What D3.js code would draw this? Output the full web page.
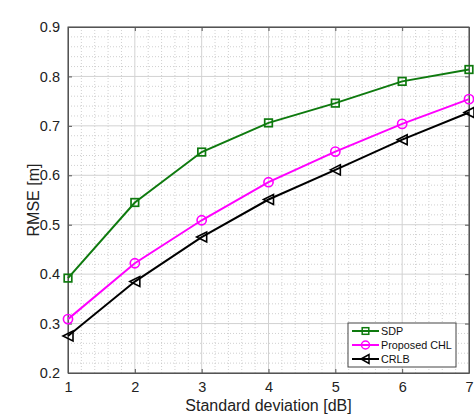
<!DOCTYPE html>
<html><head><meta charset="utf-8">
<script src="https://cdn.jsdelivr.net/npm/d3@7"></script>
<style>body{margin:0;background:#fff;}svg{display:block;font-family:"Liberation Sans",Arial,sans-serif;}</style>
</head><body><svg id="c" width="474" height="415"></svg>
<script>
const xValues = [1, 2, 3, 4, 5, 6, 7];
const sdp = [0.392, 0.545, 0.647, 0.706, 0.746, 0.790, 0.814];
const proposed = [0.309, 0.422, 0.509, 0.586, 0.648, 0.704, 0.754];
const crlb = [0.275, 0.385, 0.475, 0.551, 0.611, 0.672, 0.727];
const seriesNames = ["SDP", "Proposed CHL", "CRLB"];
const xTicks = [1, 2, 3, 4, 5, 6, 7];
const yTicks = [0.2, 0.3, 0.4, 0.5, 0.6, 0.7, 0.8, 0.9];

const svg = d3.select("#c");
const L = 68, R = 469, T = 27, B = 373;
const x = d3.scaleLinear().domain([1, 7]).range([L, R]);
const y = d3.scaleLinear().domain([0.2, 0.9]).range([B, T]);

const g = svg.append("g");
const xMinor = d3.range(1, 7.001, 0.2).filter(v => Math.abs(v - Math.round(v)) > 1e-6);
const yMinor = d3.range(0.2, 0.9001, 0.02).filter(v => Math.abs(v * 10 - Math.round(v * 10)) > 1e-6);
g.selectAll(".xm").data(xMinor).join("line")
  .attr("x1", d => x(d)).attr("x2", d => x(d)).attr("y1", T).attr("y2", B)
  .attr("stroke", "#c4c4c4").attr("stroke-width", 0.8).attr("stroke-dasharray", "1,2");
g.selectAll(".ym").data(yMinor).join("line")
  .attr("y1", d => y(d)).attr("y2", d => y(d)).attr("x1", L).attr("x2", R)
  .attr("stroke", "#c4c4c4").attr("stroke-width", 0.8).attr("stroke-dasharray", "1,2");
g.selectAll(".xg").data(xTicks).join("line")
  .attr("x1", d => x(d)).attr("x2", d => x(d)).attr("y1", T).attr("y2", B)
  .attr("stroke", "#d2d2d2").attr("stroke-width", 1);
g.selectAll(".yg").data(yTicks).join("line")
  .attr("y1", d => y(d)).attr("y2", d => y(d)).attr("x1", L).attr("x2", R)
  .attr("stroke", "#d2d2d2").attr("stroke-width", 1);

const axisColor = "#555";
const xAxis = svg.append("g").attr("transform", `translate(0,${B})`)
  .call(d3.axisBottom(x).tickValues(xTicks).tickFormat(d3.format("d")).tickSizeInner(-4).tickSizeOuter(0).tickPadding(9));
const yAxis = svg.append("g").attr("transform", `translate(${L},0)`)
  .call(d3.axisLeft(y).tickValues(yTicks).tickFormat(d3.format(".1f")).tickSizeInner(-4).tickSizeOuter(0).tickPadding(8));
const xTop = svg.append("g").attr("transform", `translate(0,${T})`)
  .call(d3.axisTop(x).tickValues(xTicks).tickFormat("").tickSizeInner(-4).tickSizeOuter(0));
const yRight = svg.append("g").attr("transform", `translate(${R},0)`)
  .call(d3.axisRight(y).tickValues(yTicks).tickFormat("").tickSizeInner(-4).tickSizeOuter(0));
[xAxis, yAxis, xTop, yRight].forEach(a => {
  a.selectAll("path").attr("stroke", axisColor);
  a.selectAll("line").attr("stroke", axisColor);
  a.selectAll("text").attr("fill", "#222").attr("font-size", 14.5).attr("font-family", "Liberation Sans, Arial, sans-serif");
});
svg.append("rect").attr("x", L).attr("y", T).attr("width", R - L).attr("height", B - T)
  .attr("fill", "none").attr("stroke", axisColor).attr("stroke-width", 1);

svg.append("text").attr("x", (L + R) / 2).attr("y", 411).attr("text-anchor", "middle")
  .attr("font-size", 16).attr("fill", "#222").text("Standard deviation [dB]");
svg.append("text").attr("transform", `translate(39,${(T + B) / 2}) rotate(-90)`).attr("text-anchor", "middle")
  .attr("font-size", 16).attr("fill", "#222").text("RMSE [m]");

const series = [
  {name: seriesNames[0], values: sdp, color: "#0e7a0e", marker: "square"},
  {name: seriesNames[1], values: proposed, color: "#ff00ff", marker: "circle"},
  {name: seriesNames[2], values: crlb, color: "#000000", marker: "triangle"}
];
const line = d3.line().x((d, i) => x(xValues[i])).y(d => y(d));
function drawMarker(sel, type, cx, cy, color) {
  if (type === "square") {
    sel.append("rect").attr("x", cx - 3.8).attr("y", cy - 3.8).attr("width", 7.6).attr("height", 7.6)
      .attr("fill", "none").attr("stroke", color).attr("stroke-width", 1.7);
  } else if (type === "circle") {
    sel.append("circle").attr("cx", cx).attr("cy", cy).attr("r", 4.6)
      .attr("fill", "none").attr("stroke", color).attr("stroke-width", 1.6);
  } else {
    sel.append("path").attr("d", `M${cx - 5},${cy} L${cx + 5},${cy - 5} L${cx + 5},${cy + 5} Z`)
      .attr("fill", "none").attr("stroke", color).attr("stroke-width", 1.6);
  }
}
series.forEach(s => {
  svg.append("path").datum(s.values).attr("d", line).attr("fill", "none")
    .attr("stroke", s.color).attr("stroke-width", 2);
  const mg = svg.append("g");
  s.values.forEach((v, i) => drawMarker(mg, s.marker, x(xValues[i]), y(v), s.color));
});

const lg = svg.append("g");
lg.append("rect").attr("x", 348).attr("y", 323).attr("width", 108).attr("height", 44)
  .attr("fill", "#fff").attr("stroke", "#444").attr("stroke-width", 1);
series.forEach((s, i) => {
  const ly = 331 + i * 14;
  lg.append("line").attr("x1", 352).attr("x2", 379).attr("y1", ly).attr("y2", ly)
    .attr("stroke", s.color).attr("stroke-width", 2);
  if (s.marker === "square") {
    lg.append("rect").attr("x", 365.5 - 3.3).attr("y", ly - 3.3).attr("width", 6.6).attr("height", 6.6)
      .attr("fill", "none").attr("stroke", s.color).attr("stroke-width", 1.5);
  } else if (s.marker === "circle") {
    lg.append("circle").attr("cx", 365.5).attr("cy", ly).attr("r", 4)
      .attr("fill", "none").attr("stroke", s.color).attr("stroke-width", 1.5);
  } else {
    lg.append("path").attr("d", `M${361},${ly} L${369},${ly - 4.5} L${369},${ly + 4.5} Z`)
      .attr("fill", "none").attr("stroke", s.color).attr("stroke-width", 1.5);
  }
  lg.append("text").attr("x", 381).attr("y", ly + 4).attr("font-size", 10.8).attr("fill", "#111").text(s.name);
});
</script></body></html>
